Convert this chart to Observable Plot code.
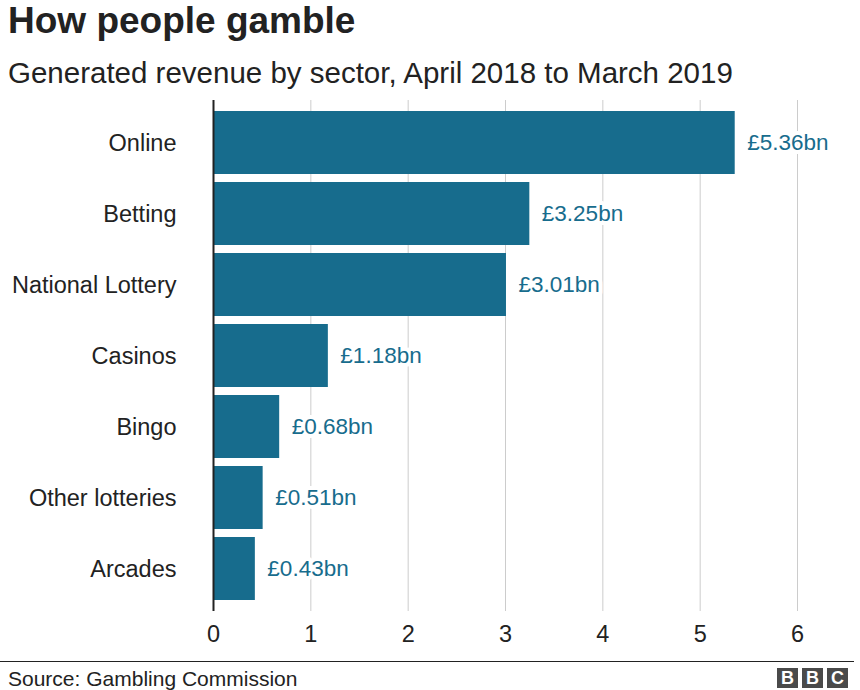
<!DOCTYPE html>
<html>
<head>
<meta charset="utf-8">
<script src="https://cdn.jsdelivr.net/npm/d3@7"></script>
<script src="https://cdn.jsdelivr.net/npm/@observablehq/plot@0.6"></script>
<style>
  html, body { margin: 0; padding: 0; background: #fff; }
  body { width: 860px; height: 690px; position: relative; overflow: hidden; font-family: "Liberation Sans", Arial, Helvetica, sans-serif; color: #222; }
  .title { position: absolute; left: 8px; top: 2px; font-size: 37px; line-height: 37px; font-weight: bold; color: #222; white-space: nowrap; }
  .subtitle { position: absolute; left: 8px; top: 58px; font-size: 29.5px; line-height: 29.5px; color: #222; white-space: nowrap; }
  #chart { position: absolute; left: 0; top: 90px; }
  .footer { position: absolute; left: 0; top: 661px; width: 854px; border-top: 1px solid #222; height: 29px; }
  .source { position: absolute; left: 8px; top: 6px; font-size: 21px; line-height: 21px; color: #222; white-space: nowrap; }
  .bbc { position: absolute; left: 777px; top: 6px; display: flex; gap: 4px; }
  .bbc span { display: block; width: 21px; height: 20px; background: #4a4a4a; color: #fff; font-weight: bold; font-size: 18px; line-height: 20px; text-align: center; }
</style>
</head>
<body>
<div class="title">How people gamble</div>
<div class="subtitle">Generated revenue by sector, April 2018 to March 2019</div>
<div id="chart"></div>
<div class="footer">
  <div class="source">Source: Gambling Commission</div>
  <div class="bbc"><span>B</span><span>B</span><span>C</span></div>
</div>
<script>
const sectors = ["Online", "Betting", "National Lottery", "Casinos", "Bingo", "Other lotteries", "Arcades"];
const revenue = [5.36, 3.25, 3.01, 1.18, 0.68, 0.51, 0.43];
const xTicks = [0, 1, 2, 3, 4, 5, 6];
const valueLabels = ["£5.36bn", "£3.25bn", "£3.01bn", "£1.18bn", "£0.68bn", "£0.51bn", "£0.43bn"];

const data = sectors.map((s, i) => ({ sector: s, value: revenue[i], label: valueLabels[i] }));
const barColor = "#176c8d";

const chart = Plot.plot({
  width: 860,
  height: 560,
  marginTop: 10,
  marginBottom: 39,
  marginLeft: 213,
  marginRight: 63,
  style: { fontFamily: "'Liberation Sans', Arial, Helvetica, sans-serif", fontSize: "23.5px", color: "#222", background: "#fff" },
  x: { domain: [0, 6], ticks: xTicks, tickFormat: d => String(d), tickSize: 0, tickPadding: 14, label: null, fontSize: 22 },
  y: { domain: sectors, paddingInner: 0.113, paddingOuter: 0.155, tickSize: 0, tickPadding: 37, label: null },
  marks: [
    Plot.gridX(xTicks, { stroke: "#cccccc", strokeOpacity: 1, strokeWidth: 1 }),
    Plot.barX(data, { x: "value", y: "sector", fill: barColor }),
    Plot.text(data, { x: "value", y: "sector", text: "label", textAnchor: "start", dx: 12, fill: barColor, stroke: "white", strokeWidth: 8, fontSize: 22.5 }),
    Plot.ruleX([0], { stroke: "#222", strokeWidth: 2 })
  ]
});
document.getElementById("chart").appendChild(chart);
</script>
</body>
</html>
